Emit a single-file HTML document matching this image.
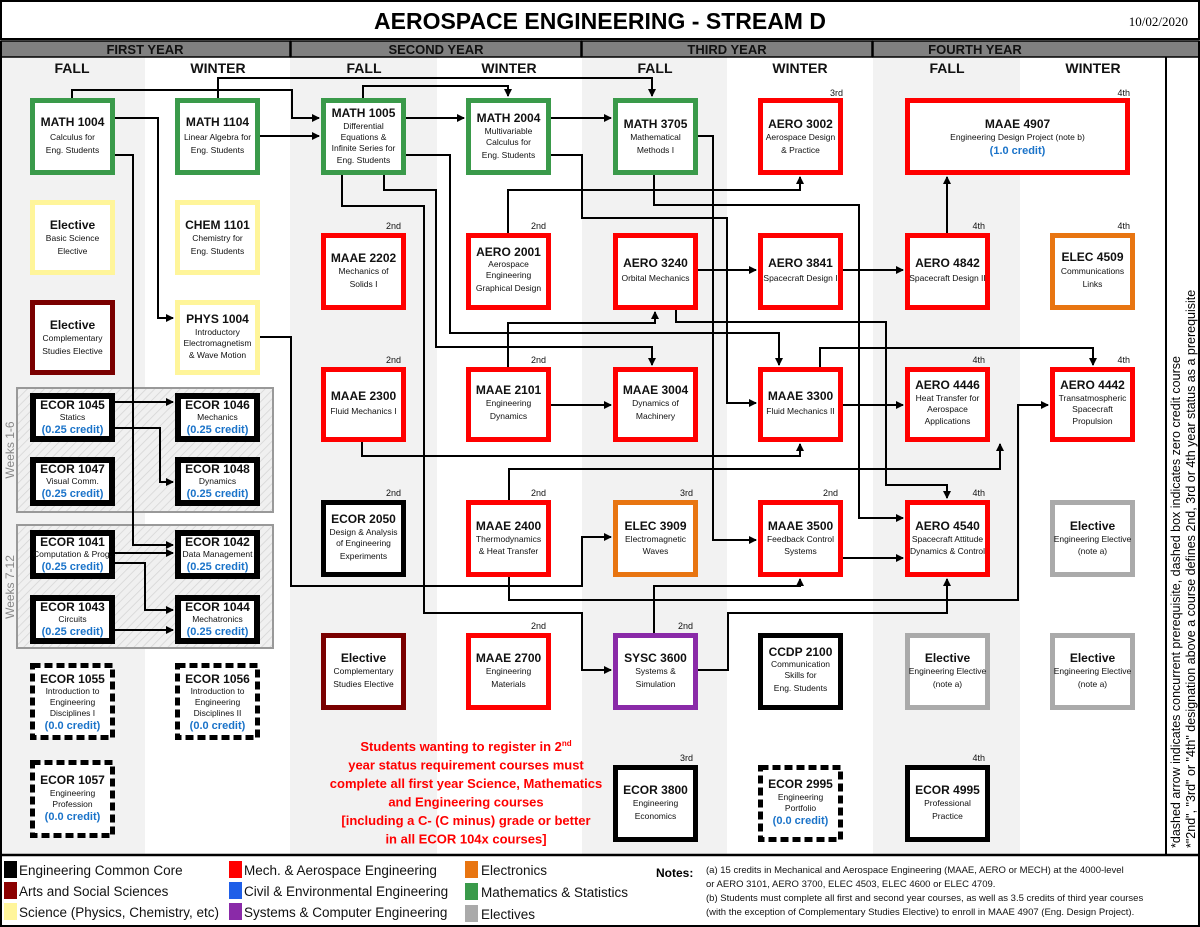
<!DOCTYPE html>
<html><head><meta charset="utf-8"><style>
html,body{margin:0;padding:0;background:#fff}
svg{display:block}
text{font-family:"Liberation Sans",sans-serif}
.t{font-size:12px;font-weight:bold;text-anchor:middle;fill:#111}
.s{font-size:8.5px;text-anchor:middle;fill:#111}
.c{font-size:11px;font-weight:bold;text-anchor:middle;fill:#1a73c9}
.y{font-size:9px;text-anchor:end;fill:#111}
.l{fill:none;stroke:#000;stroke-width:2}
</style></head><body>
<svg width="1200" height="927" viewBox="0 0 1200 927" xmlns="http://www.w3.org/2000/svg">
<defs>
<marker id="a" markerWidth="8" markerHeight="8" refX="7" refY="4" orient="auto" markerUnits="userSpaceOnUse"><path d="M0,0 L8,4 L0,8 Z" fill="#000"/></marker>
<pattern id="h" width="6" height="6" patternUnits="userSpaceOnUse" patternTransform="rotate(45)"><rect width="6" height="6" fill="#f0f0f0"/><line x1="0" y1="0" x2="0" y2="6" stroke="#d4d4d4" stroke-width="1.5"/></pattern>
</defs>
<rect x="0" y="57" width="1165" height="798" fill="#fff"/>
<rect x="0" y="57" width="145" height="798" fill="#f2f2f2"/>
<rect x="290" y="57" width="147" height="798" fill="#f2f2f2"/>
<rect x="582" y="57" width="145" height="798" fill="#f2f2f2"/>
<rect x="873" y="57" width="147" height="798" fill="#f2f2f2"/>
<rect x="1" y="1" width="1198" height="38" fill="#fff" stroke="#000" stroke-width="2"/>
<text x="600" y="29" style="font-size:23px;font-weight:bold;text-anchor:middle">AEROSPACE ENGINEERING - STREAM D</text>
<text x="1188" y="26" style="font-size:13px;text-anchor:end;font-family:'Liberation Serif',serif">10/02/2020</text>
<rect x="1" y="41" width="289" height="16" fill="#808080" stroke="#000" stroke-width="1.5"/>
<rect x="291" y="41" width="290" height="16" fill="#808080" stroke="#000" stroke-width="1.5"/>
<rect x="582" y="41" width="290" height="16" fill="#808080" stroke="#000" stroke-width="1.5"/>
<rect x="873" y="41" width="326" height="16" fill="#808080" stroke="#000" stroke-width="1.5"/>
<g style="font-size:13px;font-weight:bold;text-anchor:middle;fill:#111">
<text x="145" y="54">FIRST YEAR</text><text x="436" y="54">SECOND YEAR</text><text x="727" y="54">THIRD YEAR</text><text x="975" y="54">FOURTH YEAR</text>
</g>
<g style="font-size:14px;font-weight:bold;text-anchor:middle;fill:#111">
<text x="72" y="73">FALL</text><text x="218" y="73">WINTER</text><text x="364" y="73">FALL</text><text x="509" y="73">WINTER</text><text x="655" y="73">FALL</text><text x="800" y="73">WINTER</text><text x="947" y="73">FALL</text><text x="1093" y="73">WINTER</text>
</g>
<line x1="1166" y1="57" x2="1166" y2="855" stroke="#000" stroke-width="2"/>
<line x1="0" y1="855" x2="1200" y2="855" stroke="#000" stroke-width="2.5"/>
<line x1="1" y1="41" x2="1" y2="926" stroke="#000" stroke-width="2"/>
<line x1="1199" y1="41" x2="1199" y2="926" stroke="#000" stroke-width="2"/>
<line x1="0" y1="926" x2="1200" y2="926" stroke="#000" stroke-width="2"/>
<text transform="translate(1180,848) rotate(-90)" style="font-size:12.5px">*dashed arrow indicates concurrent prerequisite, dashed box indicates zero credit course</text>
<text transform="translate(1195,848) rotate(-90)" style="font-size:12.5px">*"2nd", "3rd" or "4th" designation above a course defines 2nd, 3rd or 4th year status as a prerequisite</text>

<rect x="17" y="388" width="256" height="124" fill="url(#h)" stroke="#999" stroke-width="2"/>
<rect x="17" y="525" width="256" height="123" fill="url(#h)" stroke="#999" stroke-width="2"/>
<text transform="translate(14,450) rotate(-90)" style="font-size:12px;fill:#888;text-anchor:middle">Weeks 1-6</text>
<text transform="translate(14,587) rotate(-90)" style="font-size:12px;fill:#888;text-anchor:middle">Weeks 7-12</text>

<g class="l">
<polyline points="72,98 72,90 292,90 292,118 319,118" marker-end="url(#a)"/>
<polyline points="218,98 218,78 652,78 652,96" marker-end="url(#a)"/>
<polyline points="363,98 363,86 508,86 508,96" marker-end="url(#a)"/>
<polyline points="260,136 319,136" marker-end="url(#a)"/>
<polyline points="406,118 464,118" marker-end="url(#a)"/>
<polyline points="551,118 611,118" marker-end="url(#a)"/>
<polyline points="115,118 158,118 158,318 173,318" marker-end="url(#a)"/>
<polyline points="115,155 133,155 133,545 173,545" marker-end="url(#a)"/>
<polyline points="115,402 173,402" marker-end="url(#a)"/>
<polyline points="115,428 160,428 160,482 173,482" marker-end="url(#a)"/>
<polyline points="115,553 173,553" marker-end="url(#a)"/>
<polyline points="115,563 145,563 145,610 173,610" marker-end="url(#a)"/>
<polyline points="115,630 173,630" marker-end="url(#a)"/>
<polyline points="342,175 342,206 424,206 424,613 582,613 582,670 611,670" marker-end="url(#a)"/>
<polyline points="406,155 450,155 450,333 779,333 779,365" marker-end="url(#a)"/>
<polyline points="384,175 384,190 436,190 436,347 652,347 652,365" marker-end="url(#a)"/>
<polyline points="508,367 508,323 655,323 655,312" marker-end="url(#a)"/>
<polyline points="551,155 582,155 582,218 727,218 727,403 756,403" marker-end="url(#a)"/>
<polyline points="508,233 508,190 800,190 800,177" marker-end="url(#a)"/>
<polyline points="654,175 654,205 859,205 859,518 903,518" marker-end="url(#a)"/>
<polyline points="698,136 713,136 713,540 756,540" marker-end="url(#a)"/>
<polyline points="698,270 756,270" marker-end="url(#a)"/>
<polyline points="843,270 903,270" marker-end="url(#a)"/>
<polyline points="947,233 947,177" marker-end="url(#a)"/>
<polyline points="676,310 676,322 886,322 886,485 947,485 947,498" marker-end="url(#a)"/>
<polyline points="551,405 611,405" marker-end="url(#a)"/>
<polyline points="843,405 903,405" marker-end="url(#a)"/>
<polyline points="820,367 820,348 1093,348 1093,365" marker-end="url(#a)"/>
<polyline points="362,442 362,456 800,456 800,444" marker-end="url(#a)"/>
<polyline points="509,500 509,469 1000,469 1000,444" marker-end="url(#a)"/>
<polyline points="509,577 509,600 1018,600 1018,405 1048,405" marker-end="url(#a)"/>
<polyline points="260,337 291,337 291,586 582,586 582,537 611,537" marker-end="url(#a)"/>
<polyline points="654,633 654,586 800,586 800,579" marker-end="url(#a)"/>
<polyline points="698,670 728,670 728,613 947,613 947,579" marker-end="url(#a)"/>
<polyline points="843,558 903,558" marker-end="url(#a)"/>
</g>

<g fill="#fff" stroke-width="5">
<rect x="32.5" y="100.5" width="80" height="72" stroke="#3a9a4a"/>
<rect x="177.5" y="100.5" width="80" height="72" stroke="#3a9a4a"/>
<rect x="323.5" y="100.5" width="80" height="72" stroke="#3a9a4a"/>
<rect x="468.5" y="100.5" width="80" height="72" stroke="#3a9a4a"/>
<rect x="615.5" y="100.5" width="80" height="72" stroke="#3a9a4a"/>
<rect x="760.5" y="100.5" width="80" height="72" stroke="#ff0000"/>
<rect x="907.5" y="100.5" width="220" height="72" stroke="#ff0000"/>
<rect x="32.5" y="202.5" width="80" height="70" stroke="#fff59a"/>
<rect x="177.5" y="202.5" width="80" height="70" stroke="#fff59a"/>
<rect x="32.5" y="302.5" width="80" height="70" stroke="#7a0000"/>
<rect x="177.5" y="302.5" width="80" height="70" stroke="#fff59a"/>
<rect x="323.5" y="235.5" width="80" height="72" stroke="#ff0000"/>
<rect x="468.5" y="235.5" width="80" height="72" stroke="#ff0000"/>
<rect x="615.5" y="235.5" width="80" height="72" stroke="#ff0000"/>
<rect x="760.5" y="235.5" width="80" height="72" stroke="#ff0000"/>
<rect x="907.5" y="235.5" width="80" height="72" stroke="#ff0000"/>
<rect x="1052.5" y="235.5" width="80" height="72" stroke="#e87511"/>
<rect x="323.5" y="369.5" width="80" height="70" stroke="#ff0000"/>
<rect x="468.5" y="369.5" width="80" height="70" stroke="#ff0000"/>
<rect x="615.5" y="369.5" width="80" height="70" stroke="#ff0000"/>
<rect x="760.5" y="369.5" width="80" height="70" stroke="#ff0000"/>
<rect x="907.5" y="369.5" width="80" height="70" stroke="#ff0000"/>
<rect x="1052.5" y="369.5" width="80" height="70" stroke="#ff0000"/>
<rect x="323.5" y="502.5" width="80" height="72" stroke="#000"/>
<rect x="468.5" y="502.5" width="80" height="72" stroke="#ff0000"/>
<rect x="615.5" y="502.5" width="80" height="72" stroke="#e87511"/>
<rect x="760.5" y="502.5" width="80" height="72" stroke="#ff0000"/>
<rect x="907.5" y="502.5" width="80" height="72" stroke="#ff0000"/>
<rect x="1052.5" y="502.5" width="80" height="72" stroke="#aaa"/>
<rect x="323.5" y="635.5" width="80" height="72" stroke="#7a0000"/>
<rect x="468.5" y="635.5" width="80" height="72" stroke="#ff0000"/>
<rect x="615.5" y="635.5" width="80" height="72" stroke="#8a2aa8"/>
<rect x="760.5" y="635.5" width="80" height="72" stroke="#000"/>
<rect x="907.5" y="635.5" width="80" height="72" stroke="#aaa"/>
<rect x="1052.5" y="635.5" width="80" height="72" stroke="#aaa"/>
<rect x="615.5" y="767.5" width="80" height="72" stroke="#000"/>
<rect x="760.5" y="767.5" width="80" height="72" stroke="#000" stroke-dasharray="8,4"/>
<rect x="907.5" y="767.5" width="80" height="72" stroke="#000"/>
<rect x="32.5" y="665.5" width="80" height="72" stroke="#000" stroke-dasharray="8,4"/>
<rect x="177.5" y="665.5" width="80" height="72" stroke="#000" stroke-dasharray="8,4"/>
<rect x="32.5" y="762.5" width="80" height="73" stroke="#000" stroke-dasharray="8,4"/>
</g>
<g fill="#fff" stroke="#000" stroke-width="6">
<rect x="33" y="396" width="79" height="43"/>
<rect x="178" y="396" width="79" height="43"/>
<rect x="33" y="460" width="79" height="43"/>
<rect x="178" y="460" width="79" height="43"/>
<rect x="33" y="533" width="79" height="43"/>
<rect x="178" y="533" width="79" height="43"/>
<rect x="33" y="598" width="79" height="43"/>
<rect x="178" y="598" width="79" height="43"/>
</g>

<text class="t" x="72.5" y="126">MATH 1004</text><text class="s" x="72.5" y="140">Calculus for</text><text class="s" x="72.5" y="153">Eng. Students</text>
<text class="t" x="217.5" y="126">MATH 1104</text><text class="s" x="217.5" y="140">Linear Algebra for</text><text class="s" x="217.5" y="153">Eng. Students</text>
<text class="t" x="363.5" y="117">MATH 1005</text><text class="s" x="363.5" y="129">Differential</text><text class="s" x="363.5" y="140">Equations &amp;</text><text class="s" x="363.5" y="151">Infinite Series for</text><text class="s" x="363.5" y="163">Eng. Students</text>
<text class="t" x="508.5" y="122">MATH 2004</text><text class="s" x="508.5" y="134">Multivariable</text><text class="s" x="508.5" y="145">Calculus for</text><text class="s" x="508.5" y="158">Eng. Students</text>
<text class="t" x="655.5" y="128">MATH 3705</text><text class="s" x="655.5" y="140">Mathematical</text><text class="s" x="655.5" y="153">Methods I</text>
<text class="y" x="843" y="96">3rd</text>
<text class="t" x="800.5" y="128">AERO 3002</text><text class="s" x="800.5" y="140">Aerospace Design</text><text class="s" x="800.5" y="153">&amp; Practice</text>
<text class="y" x="1130" y="96">4th</text>
<text class="t" x="1017.5" y="128">MAAE 4907</text><text class="s" x="1017.5" y="140">Engineering Design Project (note b)</text><text class="c" x="1017.5" y="154">(1.0 credit)</text>

<text class="t" x="72.5" y="229">Elective</text><text class="s" x="72.5" y="241">Basic Science</text><text class="s" x="72.5" y="254">Elective</text>
<text class="t" x="217.5" y="229">CHEM 1101</text><text class="s" x="217.5" y="241">Chemistry for</text><text class="s" x="217.5" y="254">Eng. Students</text>
<text class="t" x="72.5" y="329">Elective</text><text class="s" x="72.5" y="341">Complementary</text><text class="s" x="72.5" y="354">Studies Elective</text>
<text class="t" x="217.5" y="323">PHYS 1004</text><text class="s" x="217.5" y="335">Introductory</text><text class="s" x="217.5" y="346">Electromagnetism</text><text class="s" x="217.5" y="358">&amp; Wave Motion</text>

<g class="y"><text x="401" y="229">2nd</text><text x="546" y="229">2nd</text><text x="985" y="229">4th</text><text x="1130" y="229">4th</text>
<text x="401" y="363">2nd</text><text x="546" y="363">2nd</text><text x="985" y="363">4th</text><text x="1130" y="363">4th</text>
<text x="401" y="496">2nd</text><text x="546" y="496">2nd</text><text x="693" y="496">3rd</text><text x="838" y="496">2nd</text><text x="985" y="496">4th</text>
<text x="546" y="629">2nd</text><text x="693" y="629">2nd</text>
<text x="693" y="761">3rd</text><text x="985" y="761">4th</text></g>

<text class="t" x="363.5" y="262">MAAE 2202</text><text class="s" x="363.5" y="274">Mechanics of</text><text class="s" x="363.5" y="287">Solids I</text>
<text class="t" x="508.5" y="256">AERO 2001</text><text class="s" x="508.5" y="267">Aerospace</text><text class="s" x="508.5" y="278">Engineering</text><text class="s" x="508.5" y="291">Graphical Design</text>
<text class="t" x="655.5" y="267">AERO 3240</text><text class="s" x="655.5" y="281">Orbital Mechanics</text>
<text class="t" x="800.5" y="267">AERO 3841</text><text class="s" x="800.5" y="281">Spacecraft Design I</text>
<text class="t" x="947.5" y="267">AERO 4842</text><text class="s" x="947.5" y="281">Spacecraft Design II</text>
<text class="t" x="1092.5" y="261">ELEC 4509</text><text class="s" x="1092.5" y="274">Communications</text><text class="s" x="1092.5" y="287">Links</text>

<text class="t" x="363.5" y="400">MAAE 2300</text><text class="s" x="363.5" y="414">Fluid Mechanics I</text>
<text class="t" x="508.5" y="394">MAAE 2101</text><text class="s" x="508.5" y="406">Engineering</text><text class="s" x="508.5" y="419">Dynamics</text>
<text class="t" x="655.5" y="394">MAAE 3004</text><text class="s" x="655.5" y="406">Dynamics of</text><text class="s" x="655.5" y="419">Machinery</text>
<text class="t" x="800.5" y="400">MAAE 3300</text><text class="s" x="800.5" y="414">Fluid Mechanics II</text>
<text class="t" x="947.5" y="389">AERO 4446</text><text class="s" x="947.5" y="401">Heat Transfer for</text><text class="s" x="947.5" y="412">Aerospace</text><text class="s" x="947.5" y="424">Applications</text>
<text class="t" x="1092.5" y="389">AERO 4442</text><text class="s" x="1092.5" y="401">Transatmospheric</text><text class="s" x="1092.5" y="412">Spacecraft</text><text class="s" x="1092.5" y="424">Propulsion</text>

<text class="t" x="363.5" y="523">ECOR 2050</text><text class="s" x="363.5" y="535">Design &amp; Analysis</text><text class="s" x="363.5" y="546">of Engineering</text><text class="s" x="363.5" y="559">Experiments</text>
<text class="t" x="508.5" y="530">MAAE 2400</text><text class="s" x="508.5" y="542">Thermodynamics</text><text class="s" x="508.5" y="554">&amp; Heat Transfer</text>
<text class="t" x="655.5" y="530">ELEC 3909</text><text class="s" x="655.5" y="542">Electromagnetic</text><text class="s" x="655.5" y="554">Waves</text>
<text class="t" x="800.5" y="530">MAAE 3500</text><text class="s" x="800.5" y="542">Feedback Control</text><text class="s" x="800.5" y="554">Systems</text>
<text class="t" x="947.5" y="530">AERO 4540</text><text class="s" x="947.5" y="542">Spacecraft Attitude</text><text class="s" x="947.5" y="554">Dynamics &amp; Control</text>
<text class="t" x="1092.5" y="530">Elective</text><text class="s" x="1092.5" y="542">Engineering Elective</text><text class="s" x="1092.5" y="554">(note a)</text>

<text class="t" x="363.5" y="662">Elective</text><text class="s" x="363.5" y="674">Complementary</text><text class="s" x="363.5" y="687">Studies Elective</text>
<text class="t" x="508.5" y="662">MAAE 2700</text><text class="s" x="508.5" y="674">Engineering</text><text class="s" x="508.5" y="687">Materials</text>
<text class="t" x="655.5" y="662">SYSC 3600</text><text class="s" x="655.5" y="674">Systems &amp;</text><text class="s" x="655.5" y="687">Simulation</text>
<text class="t" x="800.5" y="656">CCDP 2100</text><text class="s" x="800.5" y="667">Communication</text><text class="s" x="800.5" y="678">Skills for</text><text class="s" x="800.5" y="691">Eng. Students</text>
<text class="t" x="947.5" y="662">Elective</text><text class="s" x="947.5" y="674">Engineering Elective</text><text class="s" x="947.5" y="687">(note a)</text>
<text class="t" x="1092.5" y="662">Elective</text><text class="s" x="1092.5" y="674">Engineering Elective</text><text class="s" x="1092.5" y="687">(note a)</text>

<text class="t" x="655.5" y="794">ECOR 3800</text><text class="s" x="655.5" y="806">Engineering</text><text class="s" x="655.5" y="819">Economics</text>
<text class="t" x="800.5" y="788">ECOR 2995</text><text class="s" x="800.5" y="800">Engineering</text><text class="s" x="800.5" y="811">Portfolio</text><text class="c" x="800.5" y="824">(0.0 credit)</text>
<text class="t" x="947.5" y="794">ECOR 4995</text><text class="s" x="947.5" y="806">Professional</text><text class="s" x="947.5" y="819">Practice</text>

<text class="t" x="72.5" y="409">ECOR 1045</text><text class="s" x="72.5" y="420">Statics</text><text class="c" x="72.5" y="433">(0.25 credit)</text>
<text class="t" x="217.5" y="409">ECOR 1046</text><text class="s" x="217.5" y="420">Mechanics</text><text class="c" x="217.5" y="433">(0.25 credit)</text>
<text class="t" x="72.5" y="473">ECOR 1047</text><text class="s" x="72.5" y="484">Visual Comm.</text><text class="c" x="72.5" y="497">(0.25 credit)</text>
<text class="t" x="217.5" y="473">ECOR 1048</text><text class="s" x="217.5" y="484">Dynamics</text><text class="c" x="217.5" y="497">(0.25 credit)</text>
<text class="t" x="72.5" y="546">ECOR 1041</text><text class="s" x="72.5" y="557">Computation &amp; Prog.</text><text class="c" x="72.5" y="570">(0.25 credit)</text>
<text class="t" x="217.5" y="546">ECOR 1042</text><text class="s" x="217.5" y="557">Data Management</text><text class="c" x="217.5" y="570">(0.25 credit)</text>
<text class="t" x="72.5" y="611">ECOR 1043</text><text class="s" x="72.5" y="622">Circuits</text><text class="c" x="72.5" y="635">(0.25 credit)</text>
<text class="t" x="217.5" y="611">ECOR 1044</text><text class="s" x="217.5" y="622">Mechatronics</text><text class="c" x="217.5" y="635">(0.25 credit)</text>

<text class="t" x="72.5" y="683">ECOR 1055</text><text class="s" x="72.5" y="694">Introduction to</text><text class="s" x="72.5" y="705">Engineering</text><text class="s" x="72.5" y="716">Disciplines I</text><text class="c" x="72.5" y="729">(0.0 credit)</text>
<text class="t" x="217.5" y="683">ECOR 1056</text><text class="s" x="217.5" y="694">Introduction to</text><text class="s" x="217.5" y="705">Engineering</text><text class="s" x="217.5" y="716">Disciplines II</text><text class="c" x="217.5" y="729">(0.0 credit)</text>
<text class="t" x="72.5" y="784">ECOR 1057</text><text class="s" x="72.5" y="796">Engineering</text><text class="s" x="72.5" y="807">Profession</text><text class="c" x="72.5" y="820">(0.0 credit)</text>

<g style="font-size:13px;font-weight:bold;fill:#ff0000;text-anchor:middle">
<text x="466" y="751">Students wanting to register in 2<tspan dy="-5" style="font-size:8px">nd</tspan></text>
<text x="466" y="769.5">year status requirement courses must</text>
<text x="466" y="788">complete all first year Science, Mathematics</text>
<text x="466" y="806.5">and Engineering courses</text>
<text x="466" y="825">[including a C- (C minus) grade or better</text>
<text x="466" y="843.5">in all ECOR 104x courses]</text>
</g>

<rect x="4" y="861" width="13" height="17" fill="#000"/>
<rect x="4" y="882" width="13" height="17" fill="#8b0000"/>
<rect x="4" y="903" width="13" height="17" fill="#fff59a"/>
<rect x="229" y="861" width="13" height="17" fill="#ff0000"/>
<rect x="229" y="882" width="13" height="17" fill="#1f5fe8"/>
<rect x="229" y="903" width="13" height="17" fill="#8a2aa8"/>
<rect x="465" y="861" width="13" height="17" fill="#e87511"/>
<rect x="465" y="883" width="13" height="17" fill="#3a9a4a"/>
<rect x="465" y="905" width="13" height="17" fill="#aaa"/>
<g style="font-size:13.5px;fill:#111">
<text x="19" y="875">Engineering Common Core</text>
<text x="19" y="896">Arts and Social Sciences</text>
<text x="19" y="917">Science (Physics, Chemistry, etc)</text>
<text x="244" y="875">Mech. &amp; Aerospace Engineering</text>
<text x="244" y="896">Civil &amp; Environmental Engineering</text>
<text x="244" y="917">Systems &amp; Computer Engineering</text>
<text x="481" y="875">Electronics</text>
<text x="481" y="897">Mathematics &amp; Statistics</text>
<text x="481" y="919">Electives</text>
</g>
<text x="656" y="877" style="font-size:12px;font-weight:bold">Notes:</text>
<g style="font-size:9.5px;fill:#111">
<text x="706" y="873">(a) 15 credits in Mechanical and Aerospace Engineering (MAAE, AERO or MECH) at the 4000-level</text>
<text x="706" y="887">or AERO 3101, AERO 3700, ELEC 4503, ELEC 4600 or ELEC 4709.</text>
<text x="706" y="901">(b) Students must complete all first and second year courses, as well as 3.5 credits of third year courses</text>
<text x="706" y="915">(with the exception of Complementary Studies Elective) to enroll in MAAE 4907 (Eng. Design Project).</text>
</g>
</svg>
</body></html>
